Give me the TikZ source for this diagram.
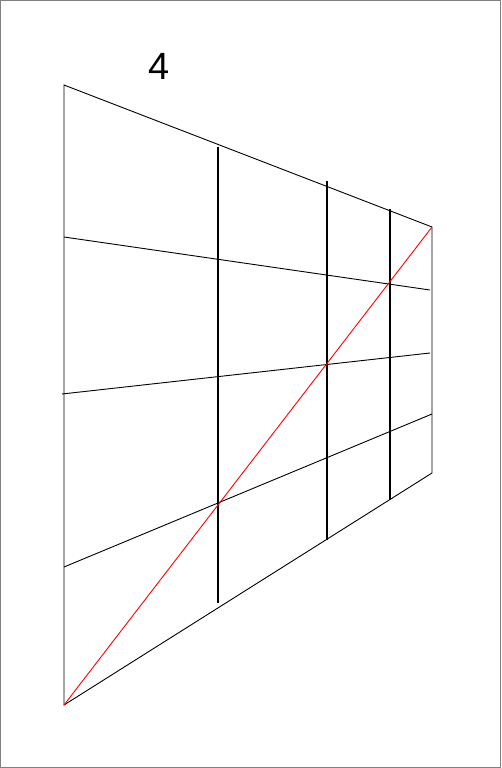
\documentclass[tikz,border=0pt]{standalone}
\usepackage{fontspec}
\setmainfont{Liberation Sans}
\begin{document}
\begin{tikzpicture}[x=1pt,y=-1pt,
  thin line/.style={black,line width=0.9pt},
  post/.style={black,line width=1.3pt},
  diag/.style={red,line width=0.9pt}]
\useasboundingbox (0,0) rectangle (501,768);
\draw[gray,line width=0.8pt] (0.5,0.5) rectangle (500.5,767.5);
\node[font=\fontsize{38}{40}\selectfont] (num) at (159,66) {4};
% corners
\coordinate (TL) at (64,85);
\coordinate (TR) at (432,227);
\coordinate (BR) at (432,473);
\coordinate (BL) at (64,705);
\draw[thin line] (TL) -- (TR) -- (BR) -- (BL) -- cycle;
% horizontal lines
\coordinate (h1a) at (64,237); \coordinate (h1b) at (430,290);
\coordinate (h2a) at (62,394); \coordinate (h2b) at (430,353);
\coordinate (h3a) at (64,567); \coordinate (h3b) at (432,414);
\draw[thin line] (h1a) -- (h1b);
\draw[thin line] (h2a) -- (h2b);
\draw[thin line] (h3a) -- (h3b);
% vertical posts
\coordinate (v1a) at (218,147); \coordinate (v1b) at (218,603);
\coordinate (v2a) at (327,181); \coordinate (v2b) at (327,540);
\coordinate (v3a) at (390,209); \coordinate (v3b) at (390,500);
\draw[post] (v1a) -- (v1b);
\draw[post] (v2a) -- (v2b);
\draw[post] (v3a) -- (v3b);
% diagonal
\draw[diag] (BL) -- (TR);
\end{tikzpicture}
\end{document}
